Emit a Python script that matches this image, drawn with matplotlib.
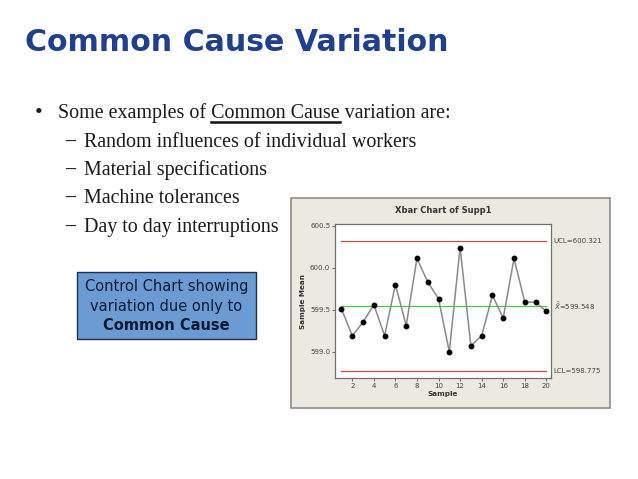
import matplotlib
matplotlib.use('Agg')
import matplotlib.pyplot as plt
from matplotlib.patches import Rectangle
from matplotlib.lines import Line2D

W, H = 638, 479

# ---- data ----
samples = list(range(1, 21))
means = [599.51, 599.19, 599.35, 599.56, 599.19, 599.80, 599.31, 600.11, 599.83, 599.63,
         599.00, 600.24, 599.07, 599.19, 599.67, 599.40, 600.11, 599.59, 599.59, 599.48]
ucl, center, lcl = 600.321, 599.548, 598.775
xticks = [2, 4, 6, 8, 10, 12, 14, 16, 18, 20]
yticks = [599.0, 599.5, 600.0, 600.5]

title = "Common Cause Variation"
bullet_prefix = "Some examples of "
bullet_under = "Common Cause"
bullet_suffix = " variation are:"
sub_items = ["Random influences of individual workers",
             "Material specifications",
             "Machine tolerances",
             "Day to day interruptions"]
box_lines = ["Control Chart showing", "variation due only to", "Common Cause"]
chart_title = "Xbar Chart of Supp1"


def fx(x):
    return x / W


def fy(y):
    return 1 - y / H


fig = plt.figure(figsize=(W / 100, H / 100), dpi=100)
fig.patch.set_facecolor('white')

# ---- slide title ----
fig.text(fx(25), fy(51), title, fontsize=21.6, fontweight='bold', color='#1f3f8f',
         family='DejaVu Sans', va='baseline', ha='left')

# ---- bullet text ----
serif = 'Liberation Serif'
fs = 14.4
tcol = '#1a1a1a'
fig.text(fx(39), fy(118.3), "\u2022", fontsize=fs * 1.1, family=serif, color=tcol,
         ha='center', va='baseline')
full = bullet_prefix + bullet_under + bullet_suffix
t_main = fig.text(fx(58.3), fy(118.3), full, fontsize=fs, family=serif, color=tcol,
                  ha='left', va='baseline')

base_y = [146.7, 175.0, 203.3, 231.7]
for yb, s in zip(base_y, sub_items):
    fig.text(fx(65), fy(yb), "\u2013", fontsize=fs, family=serif, color=tcol,
             ha='left', va='baseline', fontweight='bold')
    fig.text(fx(84.3), fy(yb), s, fontsize=fs, family=serif, color=tcol,
             ha='left', va='baseline')

# underline under "Common Cause"
renderer = fig.canvas.get_renderer()


def text_width(s):
    t = fig.text(0, 0, s, fontsize=fs, family=serif)
    w = t.get_window_extent(renderer=renderer).width
    t.remove()
    return w


w_upto = text_width(bullet_prefix + bullet_under)
w_under = text_width(bullet_under)
x_start = 58.3 + w_upto - w_under
x_end = 58.3 + w_upto
fig.add_artist(Line2D([fx(x_start), fx(x_end)], [fy(121.8), fy(121.8)],
                      transform=fig.transFigure, color='#111111', lw=1.8))

# ---- blue callout box ----
fig.add_artist(Rectangle((fx(76.7), fy(338.7)), (256 - 76.7) / W, (338.7 - 272.3) / H,
                         transform=fig.transFigure, facecolor='#6a9bd3',
                         edgecolor='#1f2f4f', lw=1.0))
box_y = [286.0, 306.5, 326.0]
for i, (yb, s) in enumerate(zip(box_y, box_lines)):
    fig.text(fx(166.3), fy(yb), s, fontsize=10.5, family='DejaVu Sans',
             fontweight='bold' if i == 2 else 'normal', color='#0f1a33',
             ha='center', va='center')

# ---- chart panel ----
fig.add_artist(Rectangle((fx(290.7), fy(408.3)), (609.5 - 290.7) / W, (408.3 - 197.7) / H,
                         transform=fig.transFigure, facecolor='#ece9e0',
                         edgecolor='#8c8c8c', lw=1.2, zorder=-5))

ax_l, ax_r, ax_t, ax_b = 335, 551, 224.3, 378.3
ax = fig.add_axes([fx(ax_l), fy(ax_b), (ax_r - ax_l) / W, (ax_b - ax_t) / H])
ax.set_zorder(5)
ax.set_facecolor('white')
ax.set_xlim(0.4, 20.43)
ax.set_ylim(598.683, 600.517)

ax.plot([samples[0], samples[-1]], [ucl, ucl], color='#cc4b4b', lw=0.9)
ax.plot([samples[0], samples[-1]], [lcl, lcl], color='#cc4b4b', lw=0.9)
ax.plot([samples[0], samples[-1]], [center, center], color='#3ecf3e', lw=0.9)
ax.plot(samples, means, color='#8a8a8a', lw=1.1, marker='o', markersize=3.2,
        markerfacecolor='black', markeredgecolor='black', zorder=3)

ax.set_xticks(xticks)
ax.set_yticks(yticks)
ax.set_yticklabels([f"{v:.1f}" for v in yticks])
ax.tick_params(axis='both', labelsize=5, colors='#555555', length=2, width=0.6,
               pad=1.5, labelcolor='#444444')
for sp in ax.spines.values():
    sp.set_color('#707070')
    sp.set_linewidth(0.9)

ax.set_title(chart_title, fontsize=6, fontweight='bold', color='#333333', pad=8)
ax.set_xlabel("Sample", fontsize=5.2, fontweight='bold', color='#333333', labelpad=1)
ax.set_ylabel("Sample Mean", fontsize=5.2, fontweight='bold', color='#333333', labelpad=3)

lab_kw = dict(transform=ax.get_yaxis_transform(), fontsize=5, color='#444444',
              ha='left', va='center', clip_on=False)
ax.text(1.013, ucl, f"UCL={ucl:.3f}", **lab_kw)
ax.text(1.013, center, r"$\bar{\bar{X}}$" + f"={center:.3f}", **lab_kw)
ax.text(1.013, lcl, f"LCL={lcl:.3f}", **lab_kw)

fig.savefig('out.png', dpi=100, facecolor='white')
